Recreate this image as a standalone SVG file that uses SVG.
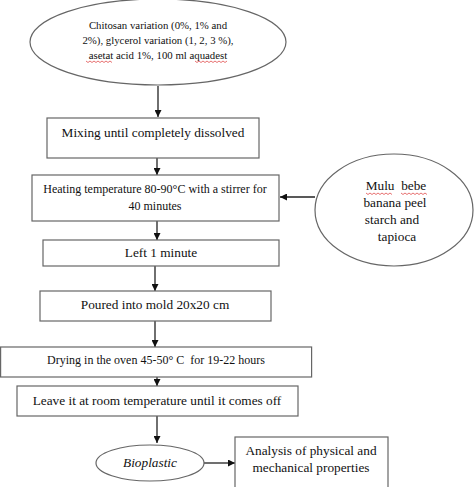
<svg xmlns="http://www.w3.org/2000/svg" width="474" height="487" viewBox="0 0 474 487">
<defs>
<marker id="ah" viewBox="0 0 10 10" refX="10" refY="5" markerWidth="7" markerHeight="7" orient="auto" markerUnits="userSpaceOnUse">
<path d="M0,0 L10,5 L0,10 Z" fill="#111"/>
</marker>
<style>
.box{fill:#fff;stroke:#666;stroke-width:1.2}
.t{font-family:"Liberation Serif","Times New Roman",serif;font-size:13.3px;fill:#111;text-anchor:middle;white-space:pre}
.s{font-size:12px}
.xs{font-size:10.8px}
.c{stroke:#222;stroke-width:1.3;fill:none;marker-end:url(#ah)}
.sq{stroke:#d33;stroke-width:0.7;fill:none}
</style>
</defs>
<rect width="474" height="487" fill="#fff"/>
<g id="connectors">
<line class="c" x1="158" y1="86" x2="158" y2="117"/>
<line class="c" x1="157" y1="152" x2="157" y2="175"/>
<line class="c" x1="315" y1="197" x2="280" y2="197"/>
<line class="c" x1="157" y1="221" x2="157" y2="240"/>
<line class="c" x1="155" y1="266" x2="155" y2="291"/>
<line class="c" x1="155" y1="321" x2="155" y2="347"/>
<line class="c" x1="157" y1="354" x2="157" y2="386"/>
<line class="c" x1="157" y1="416" x2="157" y2="443"/>
<line class="c" x1="204" y1="463" x2="235" y2="463"/>
</g>
<g id="n1">
<ellipse class="box" cx="158" cy="42" rx="128" ry="43"/>
<text class="t xs" x="158" y="29">Chitosan variation (0%, 1% and</text>
<text class="t xs" x="158" y="44">2%), glycerol variation (1, 2, 3 %),</text>
<text class="t xs" x="158" y="59">asetat acid 1%, 100 ml aquadest</text>
<path class="sq" d="M86,61 l2,1.5 l2,-1.5 l2,1.5 l2,-1.5 l2,1.5 l2,-1.5 l2,1.5 l2,-1.5 l2,1.5 l2,-1.5 l2,1.5 l2,-1.5 l2,1.5"/>
<path class="sq" d="M195,61 l2,1.5 l2,-1.5 l2,1.5 l2,-1.5 l2,1.5 l2,-1.5 l2,1.5 l2,-1.5 l2,1.5 l2,-1.5 l2,1.5 l2,-1.5 l2,1.5 l2,-1.5 l2,1.5 l2,-1.5"/>
</g>
<g id="n2">
<rect class="box" x="47" y="118" width="212" height="40"/>
<text class="t" x="153" y="137">Mixing until completely dissolved</text>
</g>
<g id="n3">
<rect class="box" x="32" y="175" width="247" height="46"/>
<text class="t s" x="155" y="193">Heating temperature 80-90°C with a stirrer for</text>
<text class="t s" x="155" y="210">40 minutes</text>
</g>
<g id="n4">
<ellipse class="box" cx="394" cy="210" rx="79" ry="56"/>
<text class="t" x="396" y="190">Mulu  bebe</text>
<text class="t" x="395" y="207">banana peel</text>
<text class="t" x="392" y="224">starch and</text>
<text class="t" x="397" y="241">tapioca</text>
<path class="sq" d="M366,193 l2,1.5 l2,-1.5 l2,1.5 l2,-1.5 l2,1.5 l2,-1.5 l2,1.5 l2,-1.5 l2,1.5 l2,-1.5 l2,1.5 l2,-1.5 l2,1.5"/>
<path class="sq" d="M401,193 l2,1.5 l2,-1.5 l2,1.5 l2,-1.5 l2,1.5 l2,-1.5 l2,1.5 l2,-1.5 l2,1.5 l2,-1.5 l2,1.5 l2,-1.5 l2,1.5"/>
</g>
<g id="n5">
<rect class="box" x="43" y="240" width="236" height="26"/>
<text class="t" x="161" y="257">Left 1 minute</text>
</g>
<g id="n6">
<rect class="box" x="40" y="291" width="231" height="30"/>
<text class="t" x="155" y="309">Poured into mold 20x20 cm</text>
</g>
<g id="n7">
<rect class="box" x="0.6" y="347" width="311" height="30"/>
<text class="t s" x="156" y="364">Drying in the oven 45-50° C  for 19-22 hours</text>
</g>
<g id="n8">
<rect class="box" x="17" y="386" width="281" height="30"/>
<text class="t" x="157" y="405">Leave it at room temperature until it comes off</text>
</g>
<g id="n9">
<ellipse class="box" cx="150" cy="463" rx="54" ry="18"/>
<text class="t" x="150" y="467" font-style="italic">Bioplastic</text>
</g>
<g id="n10">
<rect class="box" x="235" y="437" width="153" height="60"/>
<text class="t" x="311" y="455">Analysis of physical and</text>
<text class="t" x="311" y="472">mechanical properties</text>
</g>
</svg>
